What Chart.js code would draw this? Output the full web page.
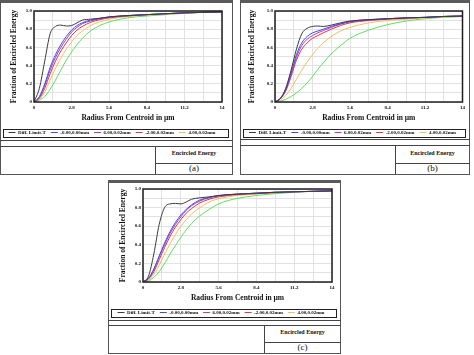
<!DOCTYPE html>
<html><head><meta charset="utf-8">
<script src="https://cdn.jsdelivr.net/npm/chart.js@4"></script>
<style>
html,body{margin:0;padding:0;background:#fff;width:474px;height:355px;overflow:hidden;}
.panel{position:absolute;border:1px solid #555;border-top:3px solid #5a5a5a;box-sizing:border-box;background:#fff;}
.hl{position:absolute;height:0;border-top:1px solid #444;}
.vl{position:absolute;width:0;border-left:1px solid #444;}
.cell{position:absolute;text-align:center;font-family:"Liberation Serif",serif;color:#111;white-space:nowrap;}
canvas{position:absolute;}
.cw{position:absolute;}
</style></head><body>

<div class="panel" style="left:0;top:0;width:233px;height:175px"></div>
<div class="hl" style="left:0;top:140px;width:233px"></div>
<div class="hl" style="left:0;top:146px;width:233px"></div>
<div class="vl" style="left:155px;top:146px;height:28px"></div>
<div class="hl" style="left:155px;top:163px;width:78px"></div>
<div class="cell" style="left:155px;top:150px;width:78px;font-size:6px;font-weight:bold">Encircled Energy</div>
<div class="cell" style="left:155px;top:163px;width:78px;font-size:9px;line-height:11px">(a)</div>

<div class="panel" style="left:240px;top:0;width:230px;height:175px"></div>
<div class="hl" style="left:240px;top:139px;width:230px"></div>
<div class="hl" style="left:240px;top:145px;width:230px"></div>
<div class="vl" style="left:395px;top:145px;height:29px"></div>
<div class="hl" style="left:395px;top:163px;width:75px"></div>
<div class="cell" style="left:395px;top:150px;width:75px;font-size:6px;font-weight:bold">Encircled Energy</div>
<div class="cell" style="left:395px;top:163px;width:75px;font-size:9px;line-height:11px">(b)</div>

<div class="panel" style="left:108px;top:180px;width:233px;height:174px"></div>
<div class="hl" style="left:108px;top:320px;width:233px"></div>
<div class="hl" style="left:108px;top:325px;width:233px"></div>
<div class="vl" style="left:264px;top:325px;height:28px"></div>
<div class="hl" style="left:264px;top:342px;width:77px"></div>
<div class="cell" style="left:264px;top:329px;width:77px;font-size:6px;font-weight:bold">Encircled Energy</div>
<div class="cell" style="left:264px;top:342px;width:77px;font-size:9px;line-height:11px">(c)</div>

<div class="cw" style="left:2px;top:3px;width:229px;height:136px"><canvas id="ca"></canvas></div>
<div class="cw" style="left:242px;top:3px;width:226px;height:136px"><canvas id="cb"></canvas></div>
<div class="cw" style="left:110px;top:183px;width:229px;height:136px"><canvas id="cc"></canvas></div>

<script>
// ---- data ----
const radiusUm = [0,0.4,0.8,1.2,1.6,2.0,2.4,2.8,3.2,3.6,4.2,4.9,5.6,7.0,8.4,9.8,11.2,12.6,14];
const seriesNames = ["Diff. Limit-T","-0.00,0.00mm","6.00,0.02mm","-2.00,0.02mm","4.00,0.02mm","-4.00,0.02mm"];
const xGridValues = [0,1.4,2.8,4.2,5.6,7.0,8.4,9.8,11.2,12.6,14];
const xTickLabels = ["0","2.8","5.6","8.4","11.2","14"];
const yGridValues = [0,0.1,0.2,0.3,0.4,0.5,0.6,0.7,0.8,0.9,1.0];
const yTickLabels = ["0","0.2","0.4","0.6","0.8","1.0"];
const xTitle = "Radius From Centroid in \u00b5m";
const yTitle = "Fraction of Encircled Energy";

// panel (a)
const aDiff   = [0,0.15,0.45,0.75,0.83,0.845,0.835,0.84,0.87,0.90,0.91,0.92,0.935,0.95,0.96,0.97,0.98,0.985,0.99];
const aField1 = [0,0.06,0.20,0.38,0.52,0.63,0.72,0.79,0.84,0.87,0.90,0.92,0.935,0.95,0.96,0.97,0.98,0.985,0.99];
const aField2 = [0,0.05,0.18,0.35,0.49,0.60,0.69,0.77,0.82,0.86,0.89,0.915,0.93,0.95,0.96,0.97,0.98,0.985,0.99];
const aField3 = [0,0.04,0.15,0.31,0.45,0.56,0.65,0.73,0.79,0.83,0.875,0.905,0.925,0.945,0.96,0.97,0.98,0.985,0.99];
const aField4 = [0,0.03,0.11,0.24,0.37,0.48,0.58,0.66,0.73,0.78,0.84,0.88,0.91,0.94,0.955,0.965,0.975,0.985,0.99];
const aField5 = [0,0.02,0.06,0.14,0.24,0.35,0.46,0.55,0.63,0.70,0.78,0.84,0.88,0.925,0.945,0.96,0.975,0.985,0.99];

// panel (b)
const bDiff   = [0,0.04,0.15,0.35,0.58,0.75,0.81,0.83,0.835,0.83,0.845,0.87,0.89,0.905,0.915,0.925,0.93,0.94,0.945];
const bField1 = [0,0.04,0.14,0.32,0.52,0.65,0.72,0.76,0.78,0.80,0.83,0.86,0.885,0.905,0.915,0.925,0.93,0.94,0.945];
const bField2 = [0,0.04,0.13,0.30,0.49,0.62,0.69,0.73,0.76,0.785,0.82,0.855,0.88,0.90,0.915,0.925,0.93,0.94,0.945];
const bField3 = [0,0.035,0.12,0.28,0.46,0.58,0.65,0.70,0.73,0.76,0.80,0.84,0.87,0.895,0.91,0.92,0.93,0.94,0.945];
const bField4 = [0,0.02,0.07,0.15,0.25,0.35,0.44,0.52,0.59,0.65,0.72,0.78,0.82,0.87,0.895,0.91,0.925,0.935,0.94];
const bField5 = [0,0.01,0.03,0.06,0.10,0.15,0.21,0.28,0.36,0.43,0.53,0.62,0.70,0.79,0.85,0.89,0.915,0.93,0.94];

// panel (c)
const cDiff   = [0,0.06,0.30,0.62,0.80,0.84,0.845,0.84,0.86,0.89,0.905,0.915,0.93,0.945,0.955,0.965,0.97,0.975,0.98];
const cField1 = [0,0.04,0.14,0.28,0.42,0.54,0.64,0.72,0.78,0.83,0.88,0.91,0.93,0.945,0.955,0.965,0.97,0.975,0.98];
const cField2 = [0,0.035,0.13,0.27,0.40,0.52,0.62,0.70,0.77,0.82,0.87,0.905,0.925,0.945,0.955,0.965,0.97,0.975,0.98];
const cField3 = [0,0.03,0.11,0.24,0.37,0.49,0.59,0.67,0.74,0.79,0.85,0.89,0.915,0.94,0.95,0.96,0.97,0.975,0.98];
const cField4 = [0,0.02,0.08,0.18,0.30,0.41,0.51,0.60,0.67,0.73,0.80,0.86,0.895,0.93,0.945,0.96,0.97,0.975,0.98];
const cField5 = [0,0.01,0.05,0.11,0.20,0.30,0.39,0.48,0.56,0.63,0.71,0.78,0.84,0.90,0.93,0.95,0.965,0.975,0.98];

// ---- styles ----
const lineColors = ["#3a3a3a","#3b4cf0","#b03cc8","#e8343a","#f2bf62","#5ee05e"];
const FONT = "'Liberation Serif', 'Times New Roman', serif";

const framePlugin = {
  id: 'frame',
  afterDraw(chart) {
    const {ctx, chartArea: a, legend: l} = chart;
    ctx.save();
    ctx.strokeStyle = '#1e1e1e';
    ctx.lineWidth = 1.5;
    ctx.strokeRect(a.left, a.top, a.right - a.left, a.bottom - a.top);
    const hb = l.legendHitBoxes && l.legendHitBoxes[0];
    if (hb) {
      const cy = Math.round(hb.top + hb.height / 2);
      ctx.lineWidth = 1;
      ctx.strokeStyle = '#222';
      ctx.strokeRect(1.5, cy - 4 + 0.5, chart.width - 4, 8);
    }
    ctx.restore();
  }
};

function makeChart(id, series, pad) {
  const datasets = series.map((s, i) => ({
    label: seriesNames[i],
    data: radiusUm.map((x, k) => ({x: x, y: s[k]})),
    borderColor: lineColors[i],
    backgroundColor: lineColors[i],
    borderWidth: 1,
    pointRadius: 0,
    cubicInterpolationMode: 'monotone',
    fill: false
  }));
  return new Chart(document.getElementById(id), {
    type: 'line',
    data: {datasets},
    plugins: [framePlugin],
    options: {
      responsive: true,
      maintainAspectRatio: false,
      animation: false,
      events: [],
      layout: {padding: {left: 0, right: pad.right, top: pad.top, bottom: 2}},
      plugins: {
        tooltip: {enabled: false},
        legend: {
          position: 'bottom',
          maxHeight: 12,
          labels: {
            filter: item => item.datasetIndex < 5,
            usePointStyle: true,
            pointStyle: 'line',
            pointStyleWidth: 7,
            boxHeight: 4,
            padding: 5,
            color: '#111',
            font: {family: FONT, size: 5, weight: 'bold'}
          }
        }
      },
      scales: {
        x: {
          type: 'linear', min: 0, max: 14,
          afterBuildTicks: ax => { ax.ticks = xGridValues.map(v => ({value: v})); },
          afterFit: ax => { ax.height = 23; },
          ticks: {
            autoSkip: false, maxRotation: 0, padding: 3,
            color: '#111', font: {family: FONT, size: 5, weight: 'bold'},
            callback: (v, i) => (i % 2 === 0 ? xTickLabels[i / 2] : '')
          },
          grid: {color: '#e2e2e2', lineWidth: 1, drawTicks: false},
          border: {display: false},
          title: {display: true, text: xTitle, color: '#111', padding: {top: 2, bottom: 2},
                  font: {family: FONT, size: 7.5, weight: 'bold'}}
        },
        y: {
          type: 'linear', min: 0, max: 1,
          afterBuildTicks: ax => { ax.ticks = yGridValues.map(v => ({value: v})); },
          afterFit: ax => { ax.width = pad.yw; },
          ticks: {
            autoSkip: false, padding: 2,
            color: '#111', font: {family: FONT, size: 5, weight: 'bold'},
            callback: (v, i) => (i % 2 === 0 ? yTickLabels[i / 2] : '')
          },
          grid: {color: '#e2e2e2', lineWidth: 1, drawTicks: false},
          border: {display: false},
          title: {display: true, text: yTitle, color: '#111', padding: {top: pad.yt, bottom: 2},
                  font: {family: FONT, size: 7.5, weight: 'bold'}}
        }
      }
    }
  });
}

makeChart('ca', [aDiff, aField1, aField2, aField3, aField4, aField5], {right: 9, top: 8, yw: 32, yt: 8});
makeChart('cb', [bDiff, bField1, bField2, bField3, bField4, bField5], {right: 5, top: 8, yw: 33, yt: 6});
makeChart('cc', [cDiff, cField1, cField2, cField3, cField4, cField5], {right: 7, top: 6, yw: 33, yt: 9});
</script>
</body></html>
